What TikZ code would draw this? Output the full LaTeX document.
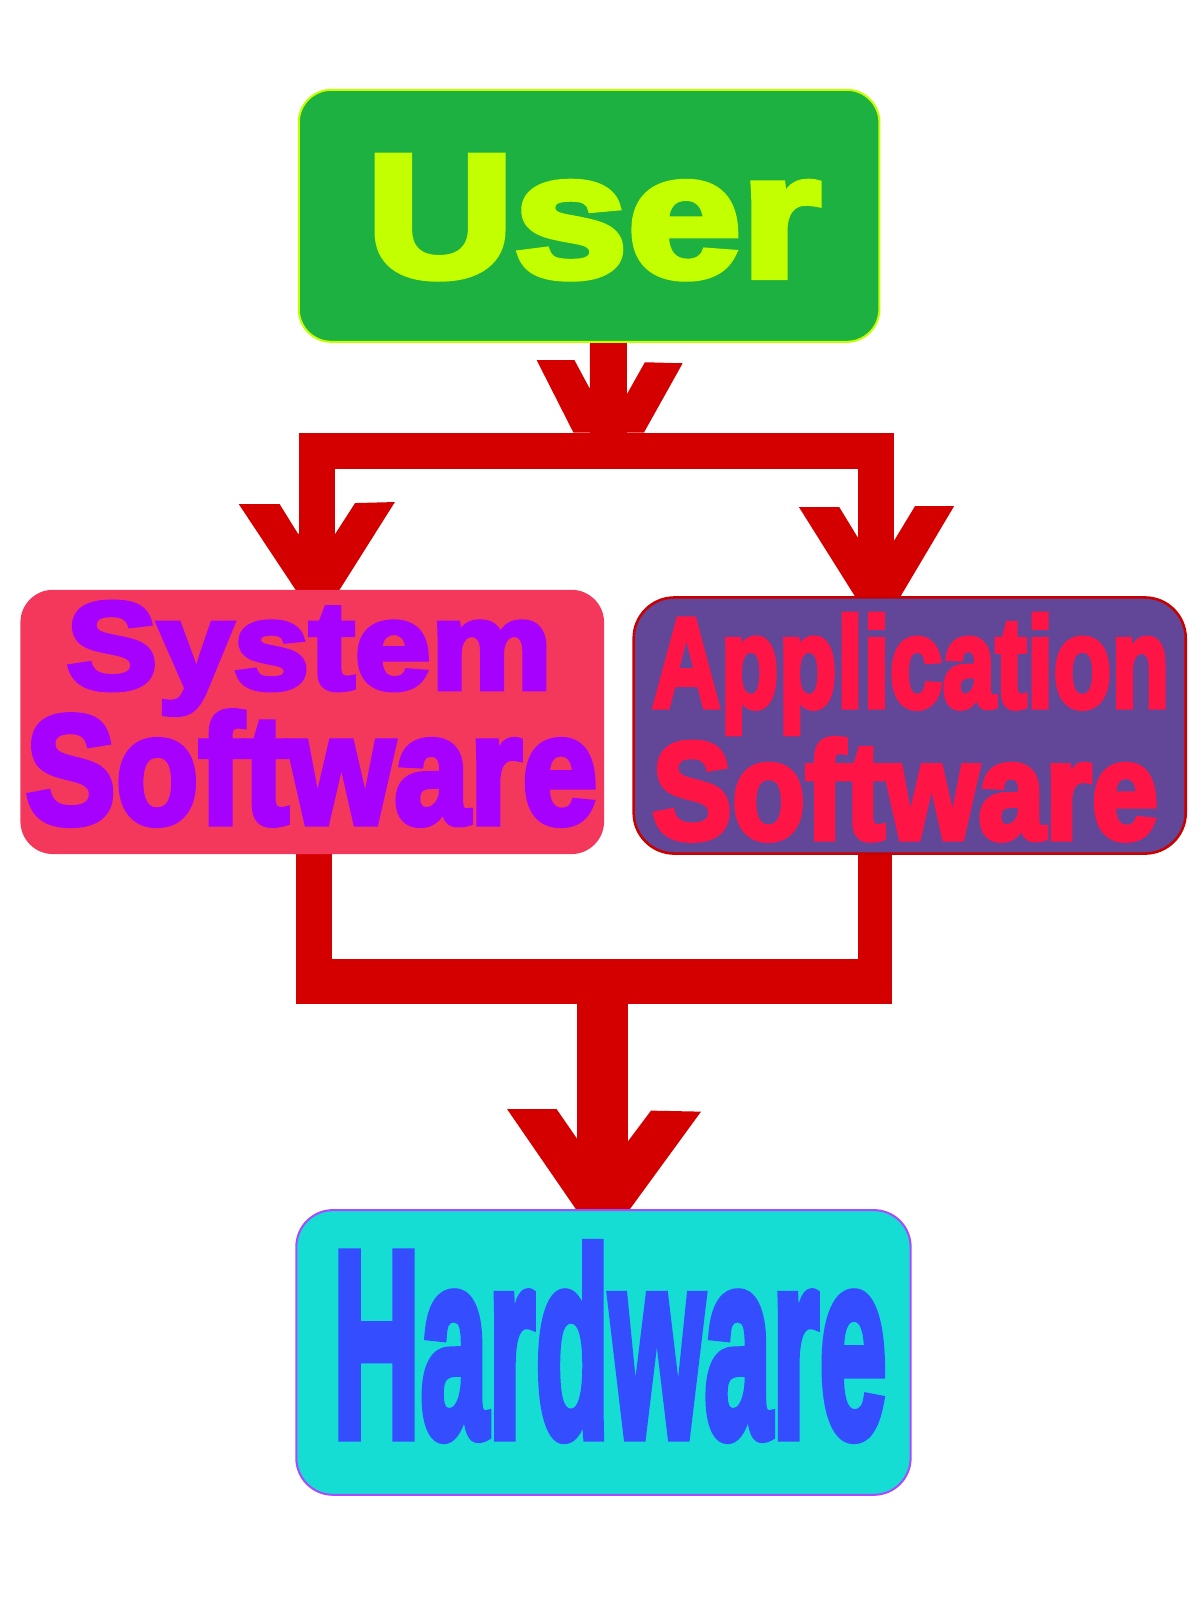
\documentclass[tikz,border=0pt]{standalone}
\usepackage{graphicx}
\usepackage{fontspec}
\newfontfamily\heavy{Liberation Sans}[BoldFeatures={FakeBold=4}]
\definecolor{usergreen}{RGB}{28,177,64}
\definecolor{userlime}{RGB}{196,255,0}
\definecolor{sysred}{RGB}{244,56,92}
\definecolor{syspurple}{RGB}{166,0,255}
\definecolor{appviolet}{RGB}{98,70,152}
\definecolor{appborder}{RGB}{200,0,0}
\definecolor{apptext}{RGB}{255,20,70}
\definecolor{hwcyan}{RGB}{21,221,212}
\definecolor{hwpurple}{RGB}{168,75,255}
\definecolor{hwblue}{RGB}{51,77,255}
\definecolor{linkred}{RGB}{212,0,0}
\tikzset{
  boxbase/.style={rectangle, inner sep=0pt, outer sep=0pt, line width=2pt},
  conn/.style={draw=linkred, line cap=butt, line join=miter},
  headfill/.style={fill=linkred, draw=none},
  lbl/.style={inner sep=0pt, outer sep=0pt, anchor=base west},
}
\begin{document}
\begin{tikzpicture}[x=1pt, y=-1pt]
\useasboundingbox (0,0) rectangle (1176,1568);

% boxes (geometry only; filled later above connectors)
\path
  (577.3,211.5) node[boxbase, minimum width=569pt, minimum height=247pt] (user) {}
  (306,707.5)   node[boxbase, minimum width=572pt, minimum height=259pt] (sys) {}
  (891.5,711)   node[boxbase, minimum width=541pt, minimum height=251pt] (app) {}
  (591.4,1325.4) node[boxbase, minimum width=602pt, minimum height=279pt] (hw) {};

% junction coordinates
\coordinate (j1) at (596,442);
\coordinate (tl) at (310.5,530);
\coordinate (tr) at (858.8,530);
\coordinate (j2) at (590.5,962);
\coordinate (bl) at (307.8,900);
\coordinate (br) at (857.5,900);
\coordinate (bbl) at (290,962);
\coordinate (bbr) at (874.4,962);

% upper connector: User -> System / Application
\draw[conn, line width=36pt] (user.south -| j1) -- (j1);
\draw[conn, line width=35pt] (sys.north -| tl) |- (j1) -| (app.north -| tr);
\fill[headfill] (578,335) -- (578,381) -- (563,353) -- (526,353) -- (562,424)
  -- (631,424) -- (669,356) -- (632,355) -- (614,387) -- (614,335) -- cycle;
\fill[headfill] (234,494) -- (274,494) -- (292,523) -- (328,524) -- (348,493)
  -- (387,492) -- (331.5,580) -- (291,580) -- cycle;
\fill[headfill] (783,497) -- (822.5,497) -- (842,529) -- (875.5,531) -- (896.7,496)
  -- (935,496) -- (881,587) -- (839.5,587) -- cycle;

% lower connector: System / Application -> Hardware
\draw[conn, line width=36pt] (sys.south -| bl) -- (bl |- j2);
\draw[conn, line width=34pt] (app.south -| br) -- (br |- j2);
\draw[conn, line width=44pt] (bbl) -- (bbr);
\draw[conn, line width=50.5pt] (j2) -- (hw.north -| j2);
\fill[headfill] (565.2,1115.5) -- (545.5,1087) -- (497,1087) -- (565.8,1187)
  -- (615.8,1187) -- (687,1089.4) -- (638,1088.4) -- (615.8,1118) -- cycle;

% box fills
\path[fill=usergreen, draw=userlime, line width=2pt, rounded corners=32pt]
  (user.north west) rectangle (user.south east);
\path[fill=sysred, rounded corners=32pt]
  (sys.north west) rectangle (sys.south east);
\path[fill=appviolet, draw=appborder, line width=2.5pt, rounded corners=40pt]
  (app.north west) rectangle (app.south east);
\path[fill=hwcyan, draw=hwpurple, line width=2pt, rounded corners=36pt]
  (hw.north west) rectangle (hw.south east);

% texts
\node[lbl, text=userlime] (tuser) at (359,271)
  {\resizebox{445pt}{118pt}{\heavy\bfseries User}};
\node[lbl, text=syspurple] (tsys1) at (65,675)
  {\resizebox{476pt}{85pt}{\heavy\bfseries System}};
\node[lbl, text=syspurple] (tsys2) at (25,807)
  {\resizebox{560pt}{110pt}{\heavy\bfseries Software}};
\node[lbl, text=apptext] (tapp1) at (639,693)
  {\resizebox{507pt}{91pt}{\heavy\bfseries Application}};
\node[lbl, text=apptext] (tapp2) at (639,822)
  {\resizebox{496pt}{98pt}{\heavy\bfseries Software}};
\node[lbl, text=hwblue] (thw) at (326,1407.5)
  {\resizebox{543pt}{188pt}{\heavy\bfseries Hardware}};
\end{tikzpicture}
\end{document}
